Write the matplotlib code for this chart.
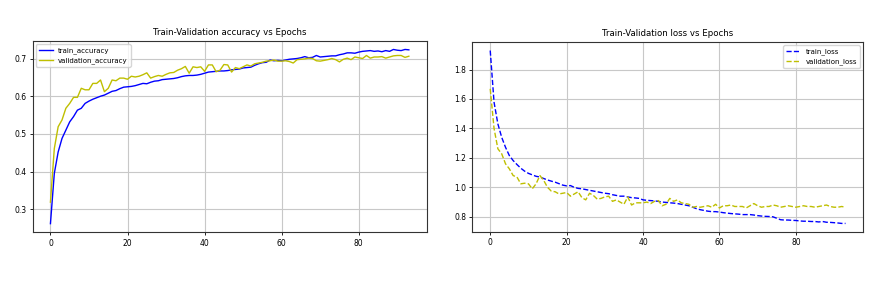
import numpy as np
import matplotlib
matplotlib.use("Agg")
import matplotlib.pyplot as plt

# accuracy per epoch
train_accuracy = [
    0.262, 0.395, 0.452, 0.488, 0.510, 0.532, 0.546, 0.563, 0.568, 0.581,
    0.587, 0.592, 0.596, 0.600, 0.603, 0.608, 0.613, 0.615, 0.620, 0.624,
    0.625, 0.626, 0.628, 0.631, 0.634, 0.633, 0.637, 0.640, 0.641, 0.644,
    0.645, 0.646, 0.647, 0.649, 0.652, 0.654, 0.655, 0.655, 0.656, 0.658,
    0.661, 0.664, 0.665, 0.666, 0.667, 0.667, 0.668, 0.670, 0.671, 0.672,
    0.675, 0.676, 0.677, 0.682, 0.686, 0.689, 0.690, 0.696, 0.694, 0.695,
    0.694, 0.696, 0.698, 0.699, 0.700, 0.702, 0.705, 0.702, 0.703, 0.708,
    0.704, 0.705, 0.706, 0.707, 0.707, 0.710, 0.712, 0.715, 0.715, 0.714,
    0.717, 0.719, 0.720, 0.721, 0.719, 0.720, 0.718, 0.721, 0.719, 0.724,
    0.722, 0.721, 0.724, 0.723,
]
validation_accuracy = [
    0.319, 0.461, 0.519, 0.537, 0.568, 0.581, 0.597, 0.597, 0.621, 0.617,
    0.617, 0.634, 0.634, 0.643, 0.612, 0.621, 0.643, 0.641, 0.648, 0.648,
    0.645, 0.653, 0.651, 0.653, 0.657, 0.662, 0.648, 0.652, 0.655, 0.653,
    0.658, 0.662, 0.663, 0.669, 0.673, 0.679, 0.661, 0.678, 0.676, 0.678,
    0.666, 0.683, 0.683, 0.665, 0.669, 0.684, 0.683, 0.664, 0.676, 0.673,
    0.678, 0.683, 0.680, 0.686, 0.688, 0.690, 0.693, 0.694, 0.696, 0.693,
    0.693, 0.694, 0.692, 0.688, 0.697, 0.698, 0.699, 0.701, 0.700, 0.694,
    0.693, 0.695, 0.697, 0.700, 0.697, 0.691, 0.698, 0.701, 0.697, 0.704,
    0.702, 0.700, 0.708, 0.701, 0.704, 0.704, 0.705, 0.701, 0.704, 0.707,
    0.708, 0.708, 0.703, 0.706,
]

# loss per epoch
train_loss = [
    1.929, 1.578, 1.431, 1.340, 1.272, 1.216, 1.182, 1.155, 1.130, 1.110,
    1.095, 1.085, 1.075, 1.070, 1.060, 1.050, 1.042, 1.035, 1.025, 1.015,
    1.010, 1.012, 1.000, 0.993, 0.990, 0.985, 0.980, 0.975, 0.970, 0.965,
    0.960, 0.957, 0.950, 0.945, 0.940, 0.940, 0.935, 0.930, 0.928, 0.925,
    0.915, 0.912, 0.910, 0.908, 0.905, 0.900, 0.898, 0.895, 0.893, 0.890,
    0.885, 0.880, 0.875, 0.865, 0.855, 0.848, 0.843, 0.838, 0.835, 0.835,
    0.832, 0.828, 0.825, 0.822, 0.820, 0.818, 0.815, 0.815, 0.815, 0.812,
    0.808, 0.805, 0.803, 0.802, 0.800, 0.790, 0.780, 0.778, 0.778, 0.776,
    0.775, 0.772, 0.770, 0.770, 0.768, 0.768, 0.765, 0.768, 0.763, 0.762,
    0.760, 0.758, 0.755, 0.755,
]
validation_loss = [
    1.669, 1.400, 1.262, 1.228, 1.160, 1.126, 1.080, 1.070, 1.024, 1.028,
    1.024, 0.990, 1.024, 1.080, 1.047, 1.000, 0.974, 0.970, 0.955, 0.960,
    0.965, 0.940, 0.955, 0.970, 0.930, 0.915, 0.960, 0.945, 0.920, 0.925,
    0.935, 0.940, 0.905, 0.915, 0.900, 0.885, 0.935, 0.880, 0.895, 0.895,
    0.895, 0.900, 0.890, 0.905, 0.910, 0.875, 0.885, 0.925, 0.905, 0.915,
    0.895, 0.890, 0.885, 0.865, 0.870, 0.865, 0.870, 0.875, 0.865, 0.885,
    0.860, 0.875, 0.875, 0.880, 0.870, 0.870, 0.870, 0.860, 0.875, 0.890,
    0.875, 0.865, 0.870, 0.870, 0.880, 0.875, 0.865, 0.870, 0.875, 0.870,
    0.865, 0.870, 0.875, 0.870, 0.870, 0.865, 0.870, 0.875, 0.880, 0.870,
    0.865, 0.865, 0.870, 0.865,
]

epochs = np.arange(len(train_accuracy))

plt.rcParams['font.size'] = 5.5

fig = plt.figure(figsize=(8.96, 2.89), dpi=100)
ax1 = fig.add_axes([0.0363, 0.196, 0.44, 0.663])
ax2 = fig.add_axes([0.5273, 0.197, 0.4362, 0.658])

# accuracy
ax1.plot(epochs, train_accuracy, color='b', lw=1.0, label='train_accuracy')
ax1.plot(epochs, validation_accuracy, color='y', lw=1.0, label='validation_accuracy')
ax1.set_title("Train-Validation accuracy vs Epochs", fontsize=6.2, pad=4)
ax1.grid(True, color='#c8c8c8', lw=0.8)
ax1.legend(loc='upper left', fontsize=5.0)

# loss
ax2.plot(epochs, train_loss, color='b', ls='--', lw=1.0, label='train_loss')
ax2.plot(epochs, validation_loss, color='y', ls='--', lw=1.0, label='validation_loss')
ax2.set_title("Train-Validation loss vs Epochs", fontsize=6.2, pad=4)
ax2.grid(True, color='#c8c8c8', lw=0.8)
ax2.legend(loc='upper right', fontsize=5.0)

for ax in (ax1, ax2):
    ax.tick_params(length=2.5, width=0.6, pad=2)
    for s in ax.spines.values():
        s.set_linewidth(0.8)
        s.set_color('#333333')

fig.savefig("out.png", dpi=100)
